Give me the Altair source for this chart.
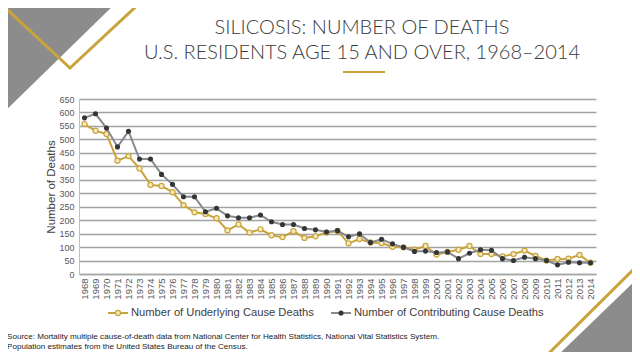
import altair as alt
import pandas as pd

# ---------------- data ----------------
years = [str(y) for y in range(1968, 2015)]
underlying = [557, 532, 520, 421, 438, 392, 331, 327, 304, 256,
              229, 223, 207, 162, 184, 154, 166, 144, 137, 159,
              134, 140, 154, 160, 114, 130, 117, 115, 101, 99,
              90, 104, 72, 82, 90, 104, 74, 74, 65, 74,
              87, 67, 50, 56, 57, 71, 42]
contributing = [580, 595, 542, 472, 530, 427, 427, 370, 333, 287,
                287, 231, 244, 216, 209, 209, 219, 194, 184, 184,
                169, 164, 156, 161, 138, 149, 117, 129, 112, 99,
                84, 85, 80, 82, 57, 77, 90, 88, 57, 50,
                62, 57, 50, 34, 44, 42, 42]
series_names = ["Number of Underlying Cause Deaths",
                "Number of Contributing Cause Deaths"]
y_ticks = list(range(0, 651, 50))
title_lines = ["SILICOSIS: NUMBER OF DEATHS",
               "U.S. RESIDENTS AGE 15 AND OVER, 1968\u20132014"]
y_title = "Number of Deaths"
source_lines = [
    "Source: Mortality multiple cause-of-death data from National Center for Health Statistics, National Vital Statistics System.",
    "Population estimates from the United States Bureau of the Census.",
]

# ---------------- style ----------------
GOLD = "#c9a33c"
GOLD_FILL = "#f3eac0"
DARK = "#353535"
DARK_LINE = "#878a90"
GRAY = "#8c8c8c"
FONT = "Liberation Sans"
OX, OY = 79, 99  # page position of the plot origin

df_u = pd.DataFrame({"year": years, "deaths": underlying, "series": series_names[0]})
df_c = pd.DataFrame({"year": years, "deaths": contributing, "series": series_names[1]})
one = pd.DataFrame({"k": [0]})

x = alt.X("year:O", sort=None,
          scale=alt.Scale(type="point", padding=0.5),
          axis=alt.Axis(title=None, labelAngle=270, labelFont=FONT, labelFontSize=9.5,
                        labelColor="#595959", ticks=False, domain=True,
                        domainColor="#a6a6a6", domainWidth=1.3, labelPadding=4, grid=False))
y = alt.Y("deaths:Q", scale=alt.Scale(domain=[0, 650], nice=False),
          axis=alt.Axis(values=y_ticks, title=y_title, titleFont=FONT, titleFontSize=11.5,
                        titleFontWeight="normal", titleColor="#404040", titlePadding=2,
                        labelFont=FONT, labelFontSize=9, labelColor="#595959",
                        ticks=False, domain=True, domainColor="#c0c0c0",
                        grid=True, gridColor="#a2a2a2", gridWidth=1.4, labelPadding=5))


def seg(x1, y1, x2, y2, color, width, cap="butt"):
    return alt.Chart(one).mark_rule(color=color, strokeWidth=width, strokeCap=cap).encode(
        x=alt.value(x1 - OX), y=alt.value(y1 - OY),
        x2=alt.value(x2 - OX), y2=alt.value(y2 - OY))


def txt(px, py, s, size, color="#333333", font=FONT, align="left", weight="normal",
        baseline="middle"):
    return alt.Chart(one).mark_text(font=font, fontSize=size, color=color, align=align,
                                    baseline=baseline, fontWeight=weight).encode(
        x=alt.value(px - OX), y=alt.value(py - OY), text=alt.value(s))


# decorations
deco = [
    seg(-113.5, 142.8, 148.7, -112.8, GRAY, 120),          # top-left grey triangle
    seg(-10, -6.3, 70, 68, GOLD, 3, "round"),               # gold V left arm
    seg(70, 68, 153, -9.3, GOLD, 3, "round"),               # gold V right arm
    seg(508.8, 458.3, 739.8, 235.3, GRAY, 80),             # bottom-right grey triangle
    seg(530, 372, 652, 251, GOLD, 3),                      # bottom-right gold line
    seg(343, 72, 385, 72, GOLD, 2),                        # underline of title
]

titles = [
    txt(362, 34, title_lines[0], 20, color="#3a3a3a", font="Lato", align="center",
        weight=300, baseline="alphabetic"),
    txt(362, 59, title_lines[1], 20, color="#3a3a3a", font="Lato", align="center",
        weight=300, baseline="alphabetic"),
    txt(7, 336.5, source_lines[0], 8.1, color="#222222"),
    txt(7, 347, source_lines[1], 8.1, color="#222222"),
]

legend = [
    seg(108, 313, 128, 313, GOLD, 2),
    alt.Chart(one).mark_point(filled=True, fill=GOLD_FILL, stroke=GOLD, strokeWidth=1.2,
                              size=26, opacity=1).encode(
        x=alt.value(118 - OX), y=alt.value(313 - OY)),
    txt(131, 313, series_names[0], 11.2, color="#404040"),
    seg(331, 313, 351, 313, DARK_LINE, 2),
    alt.Chart(one).mark_point(filled=True, color=DARK, size=26, opacity=1).encode(
        x=alt.value(341 - OX), y=alt.value(313 - OY)),
    txt(354, 313, series_names[1], 11.2, color="#404040"),
]

gold_line = alt.Chart(df_u).mark_line(color=GOLD, strokeWidth=2).encode(x=x, y=y)
gold_pts = alt.Chart(df_u).mark_point(filled=True, fill=GOLD_FILL, stroke=GOLD,
                                      strokeWidth=1.2, size=26, opacity=1).encode(x=x, y=y)
dark_line = alt.Chart(df_c).mark_line(color=DARK_LINE, strokeWidth=2).encode(x=x, y=y)
dark_pts = alt.Chart(df_c).mark_point(filled=True, color=DARK, size=26, opacity=1).encode(x=x, y=y)

chart = alt.layer(
    gold_line, gold_pts, dark_line, dark_pts, *deco, *titles, *legend
).properties(
    width=517, height=175,
    padding={"left": 71, "top": 91, "right": 36, "bottom": 78},
    autosize=alt.AutoSizeParams(type="none"),
    background="white",
).configure_view(strokeWidth=0)

chart.save("out.html", embed_options={"renderer": "svg", "actions": False})
